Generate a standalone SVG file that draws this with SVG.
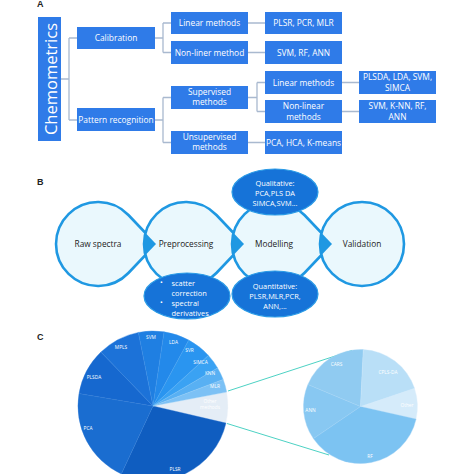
<svg xmlns="http://www.w3.org/2000/svg" width="474" height="474" viewBox="0 0 474 474">
<style>
.box{fill:#2f7be8}
.bt{font-family:"Open Sans","Noto Sans",sans-serif;font-size:8.4px;fill:#ffffff;text-anchor:middle}
.conn{fill:none;stroke:#a9b9cf;stroke-width:1.3}
.lbl{font-family:"Liberation Sans",Arial,sans-serif;font-size:9px;font-weight:bold;fill:#222}
.cir{fill:#eaf8fd;stroke:#1f98e2;stroke-width:2.6}
.tip{fill:#1f98e2}
.ct{font-family:"Open Sans","Noto Sans",sans-serif;font-size:8.3px;fill:#222;text-anchor:middle}
.ell{fill:#1673d8;stroke:#2a9be6;stroke-width:1.2}
.et{font-family:"Open Sans","Noto Sans",sans-serif;font-size:7.4px;fill:#ffffff;text-anchor:middle}
.el{font-family:"Open Sans","Noto Sans",sans-serif;font-size:7.4px;fill:#ffffff}
.pt{font-family:"Open Sans","Noto Sans",sans-serif;font-size:4.8px;fill:#ffffff;text-anchor:middle}
.zoom{stroke:#4dd2c4;stroke-width:1;fill:none}
</style>

<!-- Section A -->
<text class="lbl" x="37" y="7" font-size="7">A</text>
<g id="conn-a">
<path class="conn" d="M61,79 H69 M69,38 V120 M69,38 H77 M69,120 H77"/>
<path class="conn" d="M155,38 H163 M163,23 V52.5 M163,23 H171 M163,52.5 H171"/>
<path class="conn" d="M155,120 H163 M163,97.5 V142.5 M163,97.5 H171 M163,142.5 H171"/>
<path class="conn" d="M248,23 H265 M248,52.5 H265 M248,142.5 H265"/>
<path class="conn" d="M248,97.5 H257 M257,82.5 V111.5 M257,82.5 H265 M257,111.5 H265"/>
<path class="conn" d="M342,82.5 H359 M342,111.5 H359"/>
</g>
<g id="chemometrics"><rect class="box" x="38" y="17" width="23" height="124"/>
<text transform="translate(56.5,79) rotate(-90)" font-family="'Open Sans','Noto Sans',sans-serif" font-size="16.5" fill="#fff" text-anchor="middle">Chemometrics</text></g>
<g id="calibration"><rect class="box" x="77" y="27" width="78" height="22"/><text class="bt" x="116" y="41">Calibration</text></g>
<g id="pattern"><rect class="box" x="77" y="108" width="78" height="23"/><text class="bt" x="116" y="122.5">Pattern recognition</text></g>
<g id="lin-cal"><rect class="box" x="171" y="12" width="77" height="22"/><text class="bt" x="209.5" y="26">Linear methods</text></g>
<g id="nonlin-cal"><rect class="box" x="171" y="41" width="77" height="23"/><text class="bt" x="209.5" y="55.5">Non-liner method</text></g>
<g id="supervised"><rect class="box" x="171" y="86" width="77" height="23"/><text class="bt" x="209.5" y="94.5">Supervised</text><text class="bt" x="209.5" y="105">methods</text></g>
<g id="unsupervised"><rect class="box" x="171" y="131" width="77" height="23"/><text class="bt" x="209.5" y="139.5">Unsupervised</text><text class="bt" x="209.5" y="150">methods</text></g>
<g id="plsr-pcr"><rect class="box" x="265" y="12" width="77" height="22"/><text class="bt" x="303.5" y="26">PLSR, PCR, MLR</text></g>
<g id="svm-rf"><rect class="box" x="265" y="41" width="77" height="23"/><text class="bt" x="303.5" y="55.5">SVM, RF, ANN</text></g>
<g id="lin-sup"><rect class="box" x="265" y="71" width="77" height="23"/><text class="bt" x="303.5" y="85.5">Linear methods</text></g>
<g id="nonlin-sup"><rect class="box" x="265" y="100" width="77" height="23"/><text class="bt" x="303.5" y="109">Non-linear</text><text class="bt" x="303.5" y="119.5">methods</text></g>
<g id="pca-hca"><rect class="box" x="265" y="131" width="77" height="23"/><text class="bt" x="303.5" y="145.5">PCA, HCA, K-means</text></g>
<g id="plsda"><rect class="box" x="359" y="71" width="77" height="23"/><text class="bt" x="397.5" y="80">PLSDA, LDA, SVM,</text><text class="bt" x="397.5" y="90.5">SIMCA</text></g>
<g id="svm-knn"><rect class="box" x="359" y="100" width="77" height="23"/><text class="bt" x="397.5" y="109">SVM, K-NN, RF,</text><text class="bt" x="397.5" y="119.5">ANN</text></g>

<!-- Section B -->
<text class="lbl" x="37" y="185">B</text>
<g id="raw"><path class="cir" d="M156,244 L128.4,215 A42,42 0 1,0 128.4,273 Z"/></g>
<g id="pre"><path class="cir" d="M244,244 L216.4,215 A42,42 0 1,0 216.4,273 Z"/></g>
<g id="mod"><path class="cir" d="M332,244 L304.4,215 A42,42 0 1,0 304.4,273 Z"/></g>
<g id="val"><circle class="cir" cx="362" cy="244" r="42"/><text class="ct" x="362" y="247">Validation</text></g>
<g id="arrows-b">
<path class="tip" d="M156,244 L145.5,232.9 A42,42 0 0,0 145.5,255.1 Z"/>
<path class="tip" d="M244,244 L233.5,232.9 A42,42 0 0,0 233.5,255.1 Z"/>
<path class="tip" d="M332,244 L321.5,232.9 A42,42 0 0,0 321.5,255.1 Z"/>
</g>
<text class="ct" x="98" y="247">Raw spectra</text>
<text class="ct" x="186" y="247">Preprocessing</text>
<text class="ct" x="274" y="247">Modelling</text>
<g id="qual"><ellipse class="ell" cx="275" cy="192" rx="43" ry="23"/>
<text class="et" x="275" y="186">Qualitative:</text><text class="et" x="275" y="196">PCA,PLS DA</text><text class="et" x="275" y="206">SIMCA,SVM...</text></g>
<g id="quant"><ellipse class="ell" cx="275" cy="294" rx="43" ry="23"/>
<text class="et" x="275" y="288.5">Quantitative:</text><text class="et" x="275" y="298.5">PLSR,MLR,PCR,</text><text class="et" x="275" y="308.5">ANN,...</text></g>
<g id="scatter"><ellipse class="ell" cx="187" cy="296" rx="43" ry="23"/>
<text class="el" x="160" y="285">•</text><text class="el" x="171.5" y="285.5">scatter</text>
<text class="el" x="171.5" y="295.5">correction</text>
<text class="el" x="160" y="305">•</text><text class="el" x="171.5" y="305.5">spectral</text>
<text class="el" x="171.5" y="315.5">derivatives</text></g>

<!-- Section C -->
<text class="lbl" x="37" y="340">C</text>
<g id="zoom-lines"><path class="zoom" d="M228,391 L352,350.5 M227,423.5 L329,455"/></g>
<g id="pie-main" stroke-width="0.4">
<path fill="#e4edf6" stroke="#f4f8fb" d="M153,406 L226.7,392.1 A75,75 0 0,1 226,423.1 Z"/>
<path fill="#0f5dc0" stroke="#2a74cf" d="M153,406 L226,423.1 A75,75 0 0,1 121.3,474 Z"/>
<path fill="#1a6dd0" stroke="#2a78d6" d="M153,406 L121.3,474 A75,75 0 0,1 79,393.6 Z"/>
<path fill="#1668cf" stroke="#2a78d6" d="M153,406 L79,393.6 A75,75 0 0,1 100.9,352.1 Z"/>
<path fill="#1c72d8" stroke="#2e80dd" d="M153,406 L100.9,352.1 A75,75 0 0,1 138.4,332.4 Z"/>
<path fill="#1f7fe2" stroke="#3a8ee6" d="M153,406 L138.4,332.4 A75,75 0 0,1 164.1,331.8 Z"/>
<path fill="#2389ea" stroke="#4098ec" d="M153,406 L164.1,331.8 A75,75 0 0,1 188.8,340.1 Z"/>
<path fill="#2a95f0" stroke="#49a3f1" d="M153,406 L188.8,340.1 A75,75 0 0,1 208.4,355.4 Z"/>
<path fill="#3aa2f3" stroke="#5cb0f4" d="M153,406 L208.4,355.4 A75,75 0 0,1 217.6,367.9 Z"/>
<path fill="#58b0f3" stroke="#78c0f5" d="M153,406 L217.6,367.9 A75,75 0 0,1 223.2,379.5 Z"/>
<path fill="#7cc1f5" stroke="#96cdf6" d="M153,406 L223.2,379.5 A75,75 0 0,1 226.7,392.1 Z"/>
<text class="pt" x="210" y="403" fill="#f7fbff">Other</text><text class="pt" x="210" y="409" fill="#f7fbff">methods</text>
<text class="pt" x="175" y="471">PLSR</text>
<text class="pt" x="88" y="430">PCA</text>
<text class="pt" x="94" y="378.5">PLSDA</text>
<text class="pt" x="121" y="348.5">MPLS</text>
<text class="pt" x="151" y="338.5">SVM</text>
<text class="pt" x="173.5" y="343.5">LDA</text>
<text class="pt" x="189.5" y="351.5">SVR</text>
<text class="pt" x="200.5" y="364">SIMCA</text>
<text class="pt" x="210" y="375">KNN</text>
<text class="pt" x="215" y="387.5">MLR</text>
</g>
<g id="pie-zoom" stroke-width="0.4">
<path fill="#d5ebfa" stroke="#e6f3fc" d="M360.5,406.5 L414.5,388.3 A57,57 0 0,1 416.1,419.1 Z"/>
<path fill="#7cc3f2" stroke="#9ad0f5" d="M360.5,406.5 L416.1,419.1 A57,57 0 0,1 313.4,438.6 Z"/>
<path fill="#88c8f2" stroke="#9ad0f5" d="M360.5,406.5 L313.4,438.6 A57,57 0 0,1 307.9,384.5 Z"/>
<path fill="#90cbf1" stroke="#a4d4f4" d="M360.5,406.5 L307.9,384.5 A57,57 0 0,1 363.3,349.6 Z"/>
<path fill="#b9dff7" stroke="#cbe7f9" d="M360.5,406.5 L363.3,349.6 A57,57 0 0,1 414.5,388.3 Z"/>
<text class="pt" x="336.5" y="365.5">CARS</text>
<text class="pt" x="388" y="374">CPLS-DA</text>
<text class="pt" x="407" y="406.5">Other</text>
<text class="pt" x="310.5" y="412">ANN</text>
<text class="pt" x="370" y="457.5">RF</text>
</g>
</svg>
